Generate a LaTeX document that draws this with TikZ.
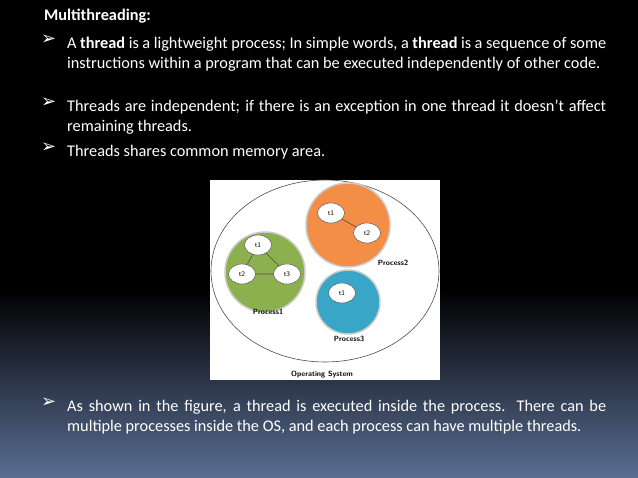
\documentclass[tikz,border=0pt]{standalone}
\usepackage{fontspec}
\setmainfont{Carlito}
\newfontfamily\symf{DejaVu Sans}
\newcommand\nohyph{\hyphenpenalty=10000\relax\exhyphenpenalty=10000\relax}
\definecolor{botblue}{HTML}{5A6E93}
\definecolor{pgreen}{HTML}{8DB04F}
\definecolor{porange}{HTML}{F28E45}
\definecolor{pblue}{HTML}{3AA6C7}
\tikzset{
  x=1pt,y=-1pt,
  para/.style={anchor=north west,inner sep=0pt,text=white,align=justify,text width=539pt,font=\fontsize{16.3}{20}\selectfont\nohyph},
  bul/.style={anchor=north west,inner sep=0pt,text=white,font=\symf\fontsize{18}{20}\selectfont},
  proc/.style={circle,draw=gray!40,line width=1.5pt},
  thr/.style={ellipse,draw=black!70,fill=white,minimum width=27pt,minimum height=20pt,inner sep=0pt,font=\sffamily\fontsize{7}{8}\selectfont},
  plab/.style={font=\sffamily\bfseries\fontsize{7.5}{8}\selectfont},
  link/.style={draw=black!70,line width=0.6pt}
}
\usetikzlibrary{shapes.geometric}
\begin{document}
\begin{tikzpicture}
\useasboundingbox (0,0) rectangle (638,478);
\fill[black] (0,0) rectangle (638,290);
\shade[top color=black,bottom color=botblue] (0,290) rectangle (638,478);
\node[anchor=north west,inner sep=0pt,text=white,font=\bfseries\fontsize{16.3}{20}\selectfont] (title) at (44,9) {Multithreading:};
\node[bul] (b1) at (41,35) {➢};
\node[para] (p1) at (67,37) {A \textbf{thread} is a lightweight process; In simple words, a \textbf{thread} is a sequence of some instructions within a program that can be executed independently of other code.};
\node[bul] (b2) at (41,98) {➢};
\node[para] (p2) at (67,100) {Threads are independent; if there is an exception in one thread it doesn’t affect remaining threads.};
\node[bul] (b3) at (41,143) {➢};
\node[para] (p3) at (67,145) {Threads shares common memory area.};
\node[bul] (b4) at (41,398) {➢};
\node[para] (p4) at (67,400) {As shown in the figure, a thread is executed inside the process. There can be multiple processes inside the OS, and each process can have multiple threads.};
% figure
\fill[white] (210,180) rectangle (440,380);
\draw[black!70,line width=0.6pt] (325,271) ellipse [x radius=114,y radius=91];
\node[proc,fill=porange,minimum size=84pt] (pr2) at (348,225) {};
\node[proc,fill=pgreen,minimum size=80pt] (pr1) at (265,272) {};
\node[proc,fill=pblue,minimum size=64pt] (pr3) at (348,302) {};
\node[thr] (a1) at (331,213) {t1};
\node[thr] (a2) at (367,233) {t2};
\node[thr] (c1) at (258,245) {t1};
\node[thr] (c2) at (242,274) {t2};
\node[thr] (c3) at (287,274) {t3};
\node[thr] (d1) at (342,293) {t1};
\path[link] (a1) -- (a2);
\path[link] (c1) -- (c2) (c1) -- (c3) (c2) -- (c3);
\node[plab] (l2) at (393,263) {Process2};
\node[plab] (l1) at (268,312) {Process1};
\node[plab] (l3) at (349,339) {Process3};
\node[plab] (os) at (322,375) {Operating System};
\end{tikzpicture}
\end{document}
